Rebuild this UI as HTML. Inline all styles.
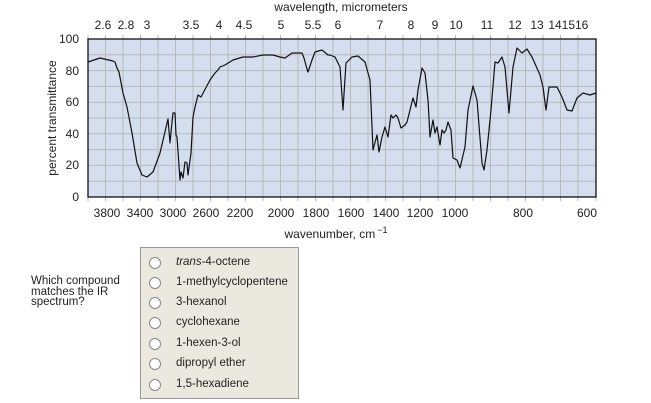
<!DOCTYPE html>
<html><head><meta charset="utf-8"><style>
body{margin:0;background:#fff;width:651px;height:403px;overflow:hidden;font-family:"Liberation Sans",sans-serif;}
svg text{font-family:"Liberation Sans",sans-serif;fill:#222;}
.q{position:absolute;left:31px;top:276px;font-size:11.5px;line-height:10.5px;color:#222;}
.box{position:absolute;left:140px;top:247px;width:157px;height:150px;background:#ebe9df;border:1px solid #999;}
.opt{position:absolute;left:35px;font-size:11.5px;color:#222;white-space:nowrap;}
.rad{position:absolute;left:8px;width:10px;height:10px;border:1.5px solid #888;border-radius:50%;background:#fff;}
</style></head><body>
<svg width="651" height="403" style="position:absolute;left:0;top:0">
<rect x="88" y="39" width="508" height="158" fill="#d4deef"/>
<g stroke="#b9b9b9" stroke-width="1">
<path d="M105.5 39V197M123 39V197M140.5 39V197M158 39V197M175.5 39V197M193 39V197M210.5 39V197M228 39V197M245.5 39V197M263 39V197M280.5 39V197M298 39V197M315.5 39V197M333 39V197M350.5 39V197M368 39V197M385.5 39V197M403 39V197M420.5 39V197M438 39V197M455.5 39V197M473 39V197M490.5 39V197M508 39V197M525.5 39V197M543 39V197M560.5 39V197M578 39V197"/>
<path d="M88 54.8H596M88 70.6H596M88 86.4H596M88 102.2H596M88 118H596M88 133.8H596M88 149.6H596M88 165.4H596M88 181.2H596"/>
<path d="M88 197v4M105.5 197v4M123 197v4M140.5 197v4M158 197v4M175.5 197v4M193 197v4M210.5 197v4M228 197v4M245.5 197v4M263 197v4M280.5 197v4M298 197v4M315.5 197v4M333 197v4M350.5 197v4M368 197v4M385.5 197v4M403 197v4M420.5 197v4M438 197v4M455.5 197v4M473 197v4M490.5 197v4M508 197v4M525.5 197v4M543 197v4M560.5 197v4M578 197v4M596 197v4"/>
<path d="M88 39v-4M105.5 39v-4M123 39v-4M140.5 39v-4M158 39v-4M175.5 39v-4M193 39v-4M210.5 39v-4M228 39v-4M245.5 39v-4M263 39v-4M280.5 39v-4M298 39v-4M315.5 39v-4M333 39v-4M350.5 39v-4M368 39v-4M385.5 39v-4M403 39v-4M420.5 39v-4M438 39v-4M455.5 39v-4M473 39v-4M490.5 39v-4M508 39v-4M525.5 39v-4M543 39v-4M560.5 39v-4M578 39v-4"/>
</g>
<rect x="88" y="39" width="508" height="158" fill="none" stroke="#111" stroke-width="1.3"/>
<polyline fill="none" stroke="#111" stroke-width="1.2" stroke-linejoin="round" points="88,62 100,58 113,61 115,62 117,68 119,72 123,93 127,107 132,133 137,163 142,175 147,177 153,172 160,153 168,119 170,143 172,122 173,113 175,113 176,135 177,137 180,180 181,172 183,178 185,162 187,163 188,175 191,153 193,117 195,107 198,95 201,97 210,80 215,73 218,70 220,67 225,65 233,60 243,57 253,57 263,55 273,55 280,57 285,58 292,53 302,53 304,58 307,69 308,72 312,60 315,52 322,50 328,55 330,55 335,57 340,67 343,110 346,63 352,57 358,56 365,62 370,80 373,150 377,135 379,152 382,137 385,127 388,137 391,115 393,118 396,115 398,118 401,128 405,125 407,122 410,110 413,98 416,107 418,90 422,68 425,73 428,100 430,137 433,120 435,133 437,127 440,145 442,130 444,133 446,130 448,122 451,130 453,158 457,160 460,168 465,147 468,110 473,86 477,100 482,163 484,170 487,150 491,110 495,62 498,63 502,57 505,67 509,113 513,67 517,48 522,53 527,49 532,57 540,75 543,87 546,110 549,87 557,87 562,97 567,110 572,111 577,98 583,93 590,95 596,93"/>
<g font-size="12" text-anchor="end">
<text x="79" y="43">100</text><text x="79" y="75">80</text><text x="79" y="106">60</text><text x="79" y="138">40</text><text x="79" y="169">20</text><text x="79" y="201">0</text>
</g>
<g font-size="12" text-anchor="middle">
<text x="107" y="217">3800</text><text x="140" y="217">3400</text><text x="173" y="217">3000</text><text x="206" y="217">2600</text><text x="240" y="217">2200</text><text x="281" y="217">2000</text><text x="316" y="217">1800</text><text x="351" y="217">1600</text><text x="386" y="217">1400</text><text x="420" y="217">1200</text><text x="455" y="217">1000</text><text x="523" y="217">800</text><text x="587" y="217">600</text>
<text x="103" y="29">2.6</text><text x="126" y="29">2.8</text><text x="147" y="29">3</text><text x="191" y="29">3.5</text><text x="219" y="29">4</text><text x="244" y="29">4.5</text><text x="281" y="29">5</text><text x="313" y="29">5.5</text><text x="338" y="29">6</text><text x="380" y="29">7</text><text x="411" y="29">8</text><text x="435" y="29">9</text><text x="456" y="29">10</text><text x="487" y="29">11</text><text x="515" y="29">12</text><text x="537" y="29">13</text><text x="555" y="29">14</text><text x="575" y="29">1516</text>
<text x="341" y="11">wavelength, micrometers</text>
<text x="336" y="238">wavenumber, cm<tspan dx="2" dy="-5" font-size="9">−1</tspan></text>
<text transform="translate(56,118) rotate(-90)">percent transmittance</text>
</g>
</svg>
<div class="q">Which compound<br>matches the IR<br>spectrum?</div>
<div class="box">
<div class="rad" style="top:9px"></div><div class="opt" style="top:8px"><i>trans</i>-4-octene</div>
<div class="rad" style="top:29px"></div><div class="opt" style="top:28px">1-methylcyclopentene</div>
<div class="rad" style="top:49px"></div><div class="opt" style="top:48px">3-hexanol</div>
<div class="rad" style="top:69px"></div><div class="opt" style="top:68px">cyclohexane</div>
<div class="rad" style="top:90px"></div><div class="opt" style="top:89px">1-hexen-3-ol</div>
<div class="rad" style="top:110px"></div><div class="opt" style="top:109px">dipropyl ether</div>
<div class="rad" style="top:131px"></div><div class="opt" style="top:130px">1,5-hexadiene</div>
</div>
</body></html>
